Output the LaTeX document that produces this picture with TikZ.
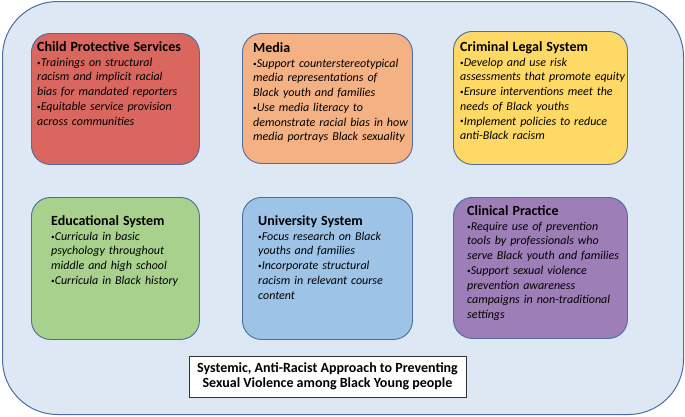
\documentclass[tikz,border=0pt]{standalone}
\usepackage{fontspec}
\setmainfont{Carlito}
\usetikzlibrary{positioning}
\definecolor{panelbg}{HTML}{DEE8F5}
\definecolor{panelline}{HTML}{4A6FA5}
\definecolor{boxline}{HTML}{4E6C9C}
\definecolor{cpsred}{HTML}{D9675F}
\definecolor{mediaorange}{HTML}{F4B183}
\definecolor{legalyellow}{HTML}{FFD966}
\definecolor{edugreen}{HTML}{A9D18E}
\definecolor{unipblue}{HTML}{9DC3E6}
\definecolor{clinpurple}{HTML}{9E7EB7}
\newcommand{\sectitle}[1]{{\upshape\bfseries\fontsize{14}{15}\selectfont #1}}
\newcommand{\itm}{{\upshape\raisebox{0.2ex}{\scalebox{0.6}{\textbullet}}}}

\begin{document}
\begin{tikzpicture}[
    x=1pt, y=-1pt,
    panel/.style={draw=panelline, line width=1pt, fill=panelbg, rounded corners=55pt,
                  anchor=north west, inner sep=0pt},
    sector/.style={draw=boxline, line width=0.9pt, rounded corners=19pt,
                   anchor=north west, inner sep=0pt},
    sectext/.style={anchor=north west, inner sep=0pt, align=left, text width=170pt,
                    font=\fontsize{12}{14.7}\selectfont\itshape},
    goalbox/.style={draw=black!80, line width=0.8pt, fill=white, inner sep=0pt,
                    minimum width=277pt, minimum height=41pt, align=center,
                    font=\fontsize{14}{15.5}\selectfont\bfseries}
]
    \useasboundingbox (0,0) rectangle (685,416);

    % background panel
    \node[panel, minimum width=681pt, minimum height=413pt] (pnl) at (2,1) {};

    % Top row
    \node[sector, fill=cpsred, minimum width=168pt, minimum height=131pt] (cps) at (31,33) {};
    \node[sector, fill=mediaorange, minimum width=170pt, minimum height=130pt] (med) at (242,33) {};
    \node[sector, fill=legalyellow, minimum width=174pt, minimum height=133pt] (cls) at (453,31) {};

    % Bottom row
    \node[sector, fill=edugreen, minimum width=168pt, minimum height=142pt] (edu) at (31,197) {};
    \node[sector, fill=unipblue, minimum width=170pt, minimum height=142pt] (uni) at (242,197) {};
    \node[sector, fill=clinpurple, minimum width=174pt, minimum height=141pt] (cln) at (453,197) {};

    % Texts in the boxes
    \node[sectext] (cpsT) at ([shift={(6,8.5)}]cps.north west)
        {\sectitle{Child Protective Services}\\
         \itm Trainings on structural\\
         racism and implicit racial\\
         bias for mandated reporters\\
         \itm Equitable service provision\\
         across communities};
    \node[sectext] (medT) at ([shift={(11,9.5)}]med.north west)
        {\sectitle{Media}\\
         \itm Support counterstereotypical\\
         media representations of\\
         Black youth and families\\
         \itm Use media literacy to\\
         demonstrate racial bias in how\\
         media portrays Black sexuality};
    \node[sectext] (clsT) at ([shift={(7,10.5)}]cls.north west)
        {\sectitle{Criminal Legal System}\\
         \itm Develop and use risk\\
         assessments that promote equity\\
         \itm Ensure interventions meet the\\
         needs of Black youths\\
         \itm Implement policies to reduce\\
         anti-Black racism};
    \node[sectext] (eduT) at ([shift={(20,18.5)}]edu.north west)
        {\sectitle{Educational System}\\
         \itm Curricula in basic\\
         psychology throughout\\
         middle and high school\\
         \itm Curricula in Black history};
    \node[sectext] (uniT) at ([shift={(16,18.5)}]uni.north west)
        {\sectitle{University System}\\
         \itm Focus research on Black\\
         youths and families\\
         \itm Incorporate structural\\
         racism in relevant course\\
         content};
    \node[sectext] (clnT) at ([shift={(14,8.5)}]cln.north west)
        {\sectitle{Clinical Practice}\\
         \itm Require use of prevention\\
         tools by professionals who\\
         serve Black youth and families\\
         \itm Support sexual violence\\
         prevention awareness\\
         campaigns in non-traditional\\
         settings};

    % Goal
    \node[goalbox] (goal) at (327.5,376.5)
        {Systemic, Anti-Racist Approach to Preventing\\
         Sexual Violence among Black Young people};
\end{tikzpicture}
\end{document}
